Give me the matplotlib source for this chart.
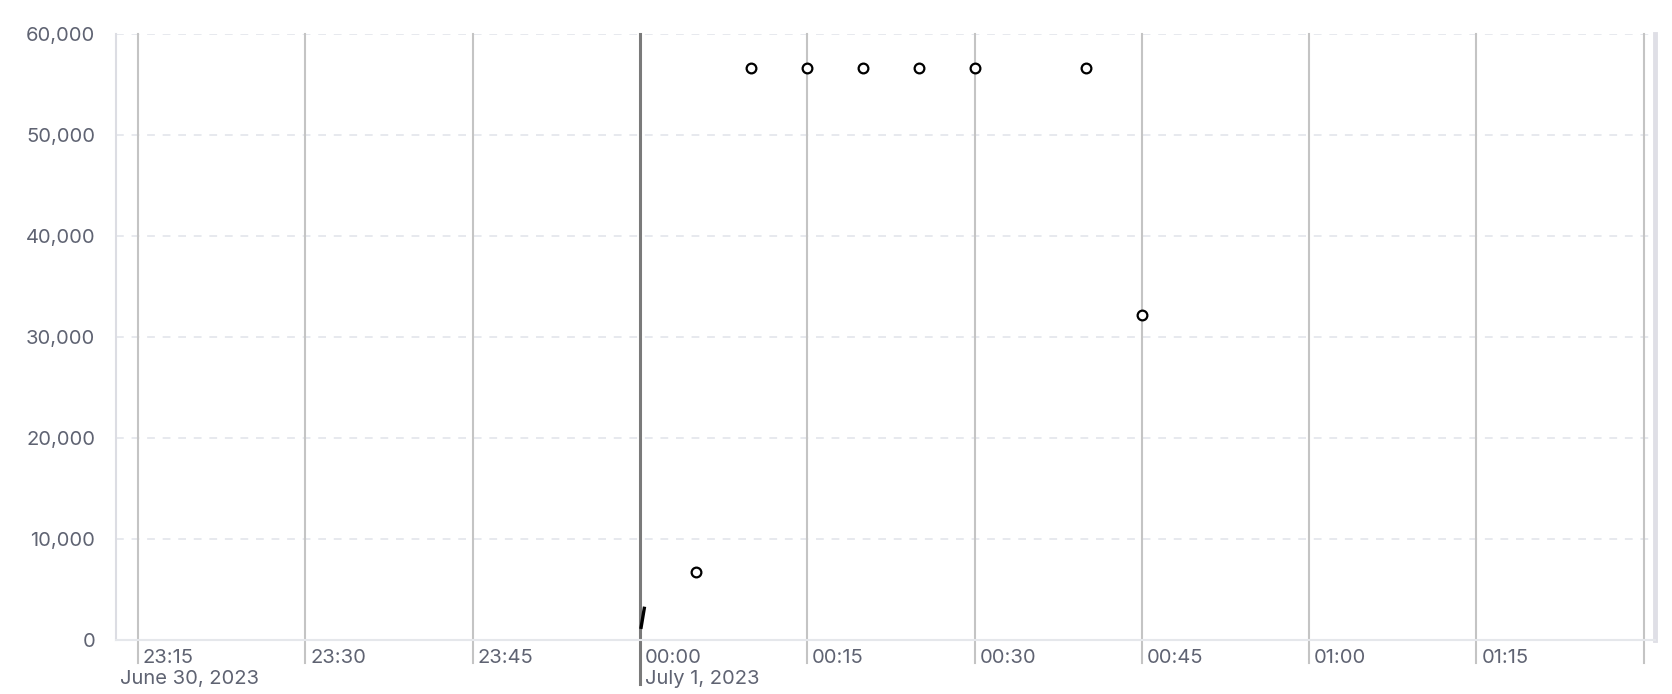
import matplotlib
matplotlib.use("Agg")
import matplotlib.pyplot as plt
import matplotlib.dates as mdates
import matplotlib.transforms as mtransforms
import pandas as pd

plt.rcParams['font.family'] = ['Inter', 'DejaVu Sans']

# data
point_times = ["2023-07-01 00:05", "2023-07-01 00:10", "2023-07-01 00:15", "2023-07-01 00:20",
               "2023-07-01 00:25", "2023-07-01 00:30", "2023-07-01 00:40", "2023-07-01 00:45"]
point_values = [6700, 56600, 56600, 56600, 56600, 56600, 56600, 32200]

line_times = ["2023-07-01 00:00:05", "2023-07-01 00:00:25"]
line_values = [1100, 3300]

tick_times = pd.date_range("2023-06-30 23:15", "2023-07-01 01:30", freq="15min")
tick_labels = ["23:15", "23:30", "23:45", "00:00", "00:15", "00:30", "00:45", "01:00", "01:15", ""]
day_start = pd.Timestamp("2023-07-01 00:00")
date_labels = ["June 30, 2023", "July 1, 2023"]

y_ticks = [0, 10000, 20000, 30000, 40000, 50000, 60000]

text_color = "#5f6372"
grid_color = "#c4c4c4"

fig = plt.figure(figsize=(16.72, 6.94), dpi=100)
ax = fig.add_axes([0.0694, 0.0778, 0.9204, 0.8732])

ax.set_xlim(pd.Timestamp("2023-06-30 23:13:02"), pd.Timestamp("2023-07-01 01:31:00"))
ax.set_ylim(0, 60000)

# horizontal dashed grid
for v in y_ticks[1:]:
    ax.axhline(v, color="#e7e9ee", lw=1.4, dashes=(4, 4), zorder=0)

# vertical 15 minute lines, with ticks hanging below the axis
xt = ax.get_xaxis_transform()
for t in tick_times:
    if t == day_start:
        ax.plot([t, t], [-0.072, 1], transform=xt, color="#7a7a7a", lw=2.2,
                clip_on=False, zorder=1)
    else:
        ax.plot([t, t], [-0.038, 1], transform=xt, color=grid_color, lw=1.5,
                clip_on=False, zorder=1)

# tick labels, left aligned next to the tick
offset = mtransforms.ScaledTranslation(5 / 100, 0, fig.dpi_scale_trans)
for t, lab in zip(tick_times, tick_labels):
    ax.text(t, -0.038, lab, transform=xt + offset, ha="left", va="baseline",
            fontsize=14.5, color=text_color)

# date labels
ax.text(0.0026, -0.0725, date_labels[0], transform=ax.transAxes, ha="left",
        va="baseline", fontsize=14.5, color=text_color)
ax.text(day_start, -0.0725, date_labels[1], transform=xt + offset, ha="left",
        va="baseline", fontsize=14.5, color=text_color)

# series
ax.plot(pd.to_datetime(line_times), line_values, color="black", lw=2.4,
        solid_capstyle="butt", zorder=3)
ax.plot(pd.to_datetime(point_times), point_values, linestyle="none", marker="o",
        markersize=7, markerfacecolor="white", markeredgecolor="black",
        markeredgewidth=1.6, zorder=4)

# y axis
ax.set_yticks(y_ticks)
ax.set_yticklabels([f"{v:,}" for v in y_ticks])
ax.tick_params(axis="y", length=0, pad=15, labelsize=14.5, labelcolor=text_color)
ax.set_xticks([])

for side in ["top"]:
    ax.spines[side].set_visible(False)
ax.spines["left"].set_color("#dcdde3")
ax.spines["left"].set_linewidth(1.5)
ax.spines["bottom"].set_color("#e5e7eb")
ax.spines["bottom"].set_linewidth(1.5)
ax.spines["right"].set_color("#dfdfe6")
ax.spines["right"].set_linewidth(3.5)

fig.savefig("out.png", dpi=100)
